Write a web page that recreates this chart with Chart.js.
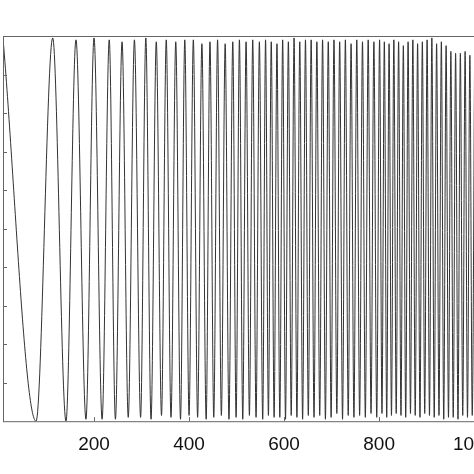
<!DOCTYPE html>
<html><head><meta charset="utf-8">
<script src="https://cdn.jsdelivr.net/npm/chart.js@4"></script>
<style>html,body{margin:0;padding:0;overflow:hidden;background:#fff;width:474px;height:474px}#w{width:520px;height:474px}</style>
</head><body><div id="w"><canvas id="c"></canvas></div>
<script>
const extremaX = [8,78,113,141,162,183,200,217,232,245,259,272,285,298,309,320,331,342,352,362,
372,382,391,400,409,418,427,436,444,452,460,468,476,484,492,499,506,513,520,527,
534,541,548,555,561,567,573,579,585,591,597,603,609,615,621,627,633,639,645,651,
657,663,669,675,681,687,693,699,705,711,717,723,729,735,741,747,753,759,765,771,
777,783,789,795,801,806,811,816,821,826,831,836,841,846,851,856,861,866,871,876,
881,886,891,896,901,906,911,916,921,926,931,936,941,946,951,956,961,966,971,976,
981,986,991,996,1001];
const extremaY = [1,-1,0.99,-1,0.98,-0.99,0.99,-0.99,0.98,-0.99,0.97,-0.98,0.98,-0.98,0.99,-0.99,0.97,-0.97,0.98,-0.98,
0.97,-0.99,0.98,-0.97,0.98,-0.98,0.96,-0.99,0.97,-0.98,0.98,-0.97,0.96,-0.99,0.97,-0.98,0.98,-0.99,0.97,-0.97,
0.98,-0.98,0.97,-0.99,0.98,-0.97,0.97,-0.98,0.96,-0.98,0.98,-0.99,0.97,-0.97,0.99,-0.98,0.97,-0.99,0.98,-0.97,
0.98,-0.98,0.97,-0.97,0.98,-0.99,0.97,-0.98,0.98,-0.96,0.97,-0.99,0.98,-0.97,0.96,-0.98,0.98,-0.97,0.97,-0.98,
0.98,-0.96,0.97,-0.98,0.98,-0.96,0.97,-0.98,0.96,-0.97,0.98,-0.96,0.97,-0.97,0.95,-0.98,0.97,-0.96,0.98,-0.97,
0.96,-0.98,0.97,-0.96,0.98,-0.97,0.99,-0.98,0.96,-0.97,0.97,-0.99,0.95,-0.98,0.92,-0.98,0.91,-0.99,0.91,-0.97,
0.92,-0.98,0.9,-0.97,0.91];
const xTicks = [200,400,600,800,1000];
const yTicks = [-0.8,-0.6,-0.4,-0.2,0,0.2,0.4,0.6,0.8];
const pts = extremaX.map((x,i)=>({x, y: extremaY[i]}));
const frame = {id:'frame', afterDraw(ch){const a=ch.chartArea,g=ch.ctx;g.save();g.strokeStyle='#666';g.lineWidth=1;
g.strokeRect(a.left+0.5,a.top+0.5,a.right-a.left,a.bottom-a.top);
const ys=ch.scales.y, xs=ch.scales.x;
yTicks.forEach(v=>{const p=Math.round(ys.getPixelForValue(v))+0.5;g.beginPath();g.moveTo(a.left,p);g.lineTo(a.left+4,p);g.stroke();});
xTicks.forEach(v=>{const p=Math.round(xs.getPixelForValue(v))+0.5;g.beginPath();g.moveTo(p,a.bottom);g.lineTo(p,a.bottom-4);g.stroke();});
g.restore();}};
new Chart(document.getElementById('c'),{type:'line',
data:{datasets:[{data:pts,borderColor:'#333',borderWidth:1,pointRadius:0,cubicInterpolationMode:'monotone',fill:false}]},
options:{animation:false,responsive:true,maintainAspectRatio:false,
layout:{padding:{left:3,top:36,right:5,bottom:14}},
plugins:{legend:{display:false},tooltip:{enabled:false}},
scales:{
x:{type:'linear',min:8.4,max:1086,afterBuildTicks(s){s.ticks=xTicks.map(v=>({value:v}));},
grid:{display:false},border:{display:false},
ticks:{color:'#111',font:{family:'Liberation Sans, Arial',size:19},padding:4,maxRotation:0,callback:v=>String(v)}},
y:{min:-1,max:1,display:false}
}},plugins:[frame]});
</script></body></html>
